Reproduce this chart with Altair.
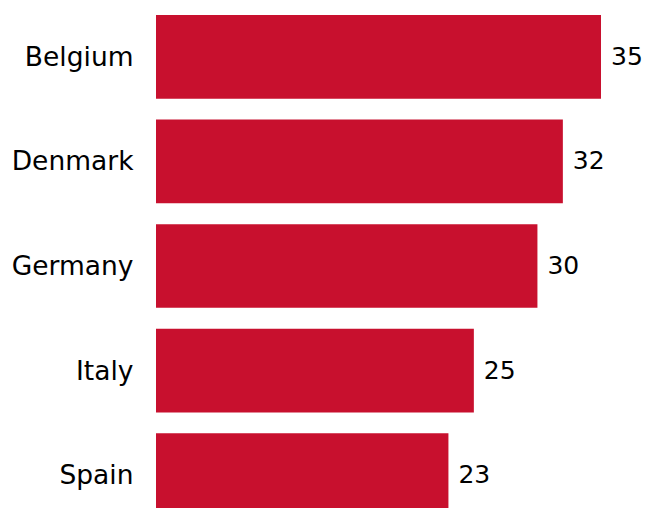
import altair as alt
import pandas as pd

countries = ["Belgium", "Denmark", "Germany", "Italy", "Spain"]
values = [35, 32, 30, 25, 23]

df = pd.DataFrame({"country": countries, "value": values})

FONT = "DejaVu Sans"

base = alt.Chart(df).encode(
    y=alt.Y(
        "country:N",
        sort=None,
        title=None,
        scale=alt.Scale(paddingInner=0.2, paddingOuter=0.067),
        axis=alt.Axis(
            ticks=False,
            domain=False,
            labelFontSize=26.5,
            labelFont=FONT,
            labelColor="black",
            labelPadding=23,
            labelOffset=1,
        ),
    )
)

bars = base.mark_bar(color="#C8102E").encode(
    x=alt.X("value:Q", axis=None, scale=alt.Scale(domain=[0, 35], nice=False))
)

text = base.mark_text(
    align="left", baseline="middle", dx=10, fontSize=25, font=FONT, color="black"
).encode(x="value:Q", text="value:Q")

chart = (
    (bars + text)
    .properties(
        width=445,
        height=516,
        padding={"left": 148, "top": 0, "right": 43, "bottom": 0},
        autosize=alt.AutoSizeParams(type="none"),
    )
    .configure_view(stroke=None)
)

chart.save("out.html", embed_options={"renderer": "svg", "actions": False})
